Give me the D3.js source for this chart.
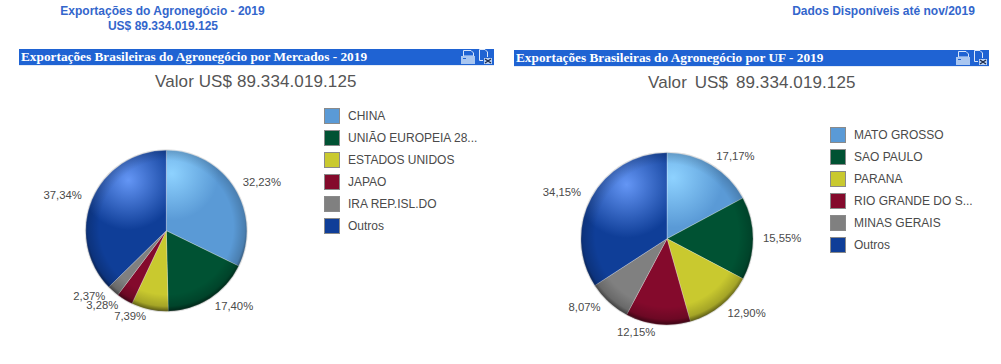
<!DOCTYPE html>
<html>
<head>
<meta charset="utf-8">
<script src="https://cdn.jsdelivr.net/npm/d3@7"></script>
<style>
    html, body { margin: 0; padding: 0; background: #fff; overflow: hidden; }
    svg { display: block; }
    text { font-family: "Liberation Sans", Arial, sans-serif; }
    .head { font-size: 12px; font-weight: bold; fill: #3366cc; text-anchor: middle; }
    .bar-title { font-family: "Liberation Serif", serif; font-size: 13.3px; font-weight: bold; fill: #fff; }
    .valor { font-size: 17px; fill: #555; }
    .pct { font-size: 11.3px; fill: #4a4a4a; }
    .leg { font-size: 12px; fill: #4a4a4a; }
</style>
</head>
<body>
<svg id="chart" width="1001" height="364"></svg>
<script>
// valores
var mercadosNomes = ['CHINA', 'UNIÃO EUROPEIA 28...', 'ESTADOS UNIDOS', 'JAPAO', 'IRA REP.ISL.DO', 'Outros'];
var mercadosValores = [32.23, 17.40, 7.39, 3.28, 2.37, 37.34];
var ufNomes = ['MATO GROSSO', 'SAO PAULO', 'PARANA', 'RIO GRANDE DO S...', 'MINAS GERAIS', 'Outros'];
var ufValores = [17.17, 15.55, 12.90, 12.15, 8.07, 34.15];
var cores = ['#5a9ad6', '#005233', '#c9c92f', '#840a2c', '#808080', '#0f3e98'];

var svg = d3.select('#chart');
var defs = svg.append('defs');
var fmt = function (v) { return v.toFixed(2).replace('.', ',') + '%'; };

/**
 * Desenha um painel: barra azul, titulo, pizza e legenda
 */
function drawPanel(id, o) {
    var g = svg.append('g').attr('id', id);

    g.append('rect').attr('x', o.barX).attr('y', o.barY).attr('width', 475).attr('height', 16).attr('fill', '#1f63d3');
    g.append('rect').attr('x', o.barX).attr('y', o.barY + 16).attr('width', 475).attr('height', 1).attr('fill', '#e4ebf6');
    g.append('text').attr('class', 'bar-title').attr('x', o.barX + 2).attr('y', o.barY + 12).text(o.titulo);
    drawIcons(g, o.barX + 442, o.barY);

    g.append('text').attr('class', 'valor').attr('x', o.valorX).attr('y', o.valorY)
        .style('word-spacing', o.wordSpacing).style('letter-spacing', '0.1px').text('Valor US$ 89.334.019.125');

    var arcs = d3.pie().sort(null)(o.valores);
    var arc = d3.arc().innerRadius(0).outerRadius(o.r);
    var labelArc = d3.arc().innerRadius(o.r + o.labelGap).outerRadius(o.r + o.labelGap);
    var cor = d3.scaleOrdinal().domain(o.nomes).range(cores);
    var meio = function (d) { return (d.startAngle + d.endAngle) / 2; };

    var pie = g.append('g').attr('transform', 'translate(' + o.cx + ',' + o.cy + ')');

    // brilho das fatias de cima
    var brilho = {0: ['#8ed2ff', 0.07, -0.71, 0.58], 5: ['#6496f5', -0.47, -0.63, 0.62]};
    var fill = function (i) {
        if (!brilho[i]) { return cor(o.nomes[i]); }
        var b = brilho[i], gid = id + 'h' + i;
        var grad = defs.append('radialGradient').attr('id', gid).attr('gradientUnits', 'userSpaceOnUse')
            .attr('cx', b[1] * o.r).attr('cy', b[2] * o.r).attr('r', b[3] * o.r);
        grad.append('stop').attr('offset', 0).attr('stop-color', b[0]);
        grad.append('stop').attr('offset', 1).attr('stop-color', cor(o.nomes[i]));
        return 'url(#' + gid + ')';
    };

    pie.append('circle').attr('r', o.r + 1).attr('fill', '#ddd');

    pie.selectAll('path.slice').data(arcs).enter().append('path')
        .attr('class', 'slice')
        .attr('d', arc)
        .attr('fill', function (d, i) { return fill(i); })
        .attr('stroke', 'rgba(255,255,255,0.45)')
        .attr('stroke-width', 0.6);

    // borda escura da esfera
    var edge = defs.append('radialGradient').attr('id', id + 'edge').attr('cx', 0.5).attr('cy', 0.48).attr('r', 0.52);
    edge.append('stop').attr('offset', 0.8).attr('stop-color', '#000').attr('stop-opacity', 0);
    edge.append('stop').attr('offset', 0.94).attr('stop-color', '#000').attr('stop-opacity', 0.18);
    edge.append('stop').attr('offset', 1).attr('stop-color', '#000').attr('stop-opacity', 0.55);
    pie.append('circle').attr('r', o.r).attr('fill', 'url(#' + id + 'edge)');

    // rotulos do lado esquerdo ficam um pouco mais para fora
    pie.selectAll('text.pct').data(arcs).enter().append('text')
        .attr('class', 'pct')
        .attr('x', function (d) { return labelArc.centroid(d)[0]; })
        .attr('y', function (d) { return labelArc.centroid(d)[1]; })
        .attr('dx', function (d) { return meio(d) < Math.PI ? 0 : -1.5; })
        .attr('dy', function (d) { return meio(d) > Math.PI && meio(d) < Math.PI * 1.5 ? '0.15em' : '0.3em'; })
        .attr('text-anchor', function (d) { return meio(d) < Math.PI ? 'start' : 'end'; })
        .text(function (d) { return fmt(d.data); });

    var y = d3.scalePoint().domain(o.nomes).range([o.legY, o.legY + 22 * (o.nomes.length - 1)]);
    var leg = g.selectAll('g.leg').data(o.nomes).enter().append('g').attr('class', 'leg')
        .attr('transform', function (d) { return 'translate(' + o.legX + ',' + y(d) + ')'; });
    leg.append('rect').attr('x', 0.5).attr('y', 0.5).attr('width', 15).attr('height', 15)
        .attr('fill', function (d) { return cor(d); }).attr('stroke', '#8a8a8a');
    leg.append('text').attr('class', 'leg').attr('x', 24).attr('y', 12).text(function (d) { return d; });
}

/**
 * Icones de impressora e excel na barra
 */
function drawIcons(g, x, y) {
    var ic = g.append('g').attr('transform', 'translate(' + x + ',' + y + ')');
    ic.append('path').attr('d', 'M2.5 1.5H10L12.5 4V7H2.5Z').attr('fill', 'none').attr('stroke', '#d5e3f9');
    ic.append('path').attr('d', 'M0 7H14V15H0Z').attr('fill', '#a9c6f0');
    ic.append('rect').attr('x', 2).attr('y', 9).attr('width', 3).attr('height', 1).attr('fill', '#1f63d3');
    ic.append('path').attr('d', 'M18.5 0.5H24L26.5 3V8M18.5 0.5V11.5H22').attr('fill', 'none').attr('stroke', '#dbe7f9');
    ic.append('rect').attr('x', 23).attr('y', 9).attr('width', 8).attr('height', 6).attr('fill', '#b9cff2');
    ic.append('path').attr('d', 'M24 10L30 14M30 10L24 14').attr('stroke', '#1b2b4a').attr('stroke-width', 1.3);
}

svg.append('text').attr('class', 'head').attr('x', 162.5).attr('y', 15).text('Exportações do Agronegócio - 2019');
svg.append('text').attr('class', 'head').attr('x', 163).attr('y', 30).text('US$ 89.334.019.125');
svg.append('text').attr('class', 'head').attr('x', 883.5).attr('y', 15).text('Dados Disponíveis até nov/2019');

drawPanel('mercados', {
    nomes: mercadosNomes, valores: mercadosValores,
    titulo: 'Exportações Brasileiras do Agronegócio por Mercados - 2019',
    barX: 19, barY: 49, valorX: 155, valorY: 87, wordSpacing: '0px',
    cx: 166.3, cy: 230.7, r: 80.5, labelGap: 9.5, legX: 324, legY: 108
});

drawPanel('uf', {
    nomes: ufNomes, valores: ufValores,
    titulo: 'Exportações Brasileiras do Agronegócio por UF - 2019',
    barX: 514, barY: 50, valorX: 648, valorY: 88, wordSpacing: '3px',
    cx: 667, cy: 238.7, r: 86, labelGap: 10, legX: 830, legY: 127
});
</script>
</body>
</html>
